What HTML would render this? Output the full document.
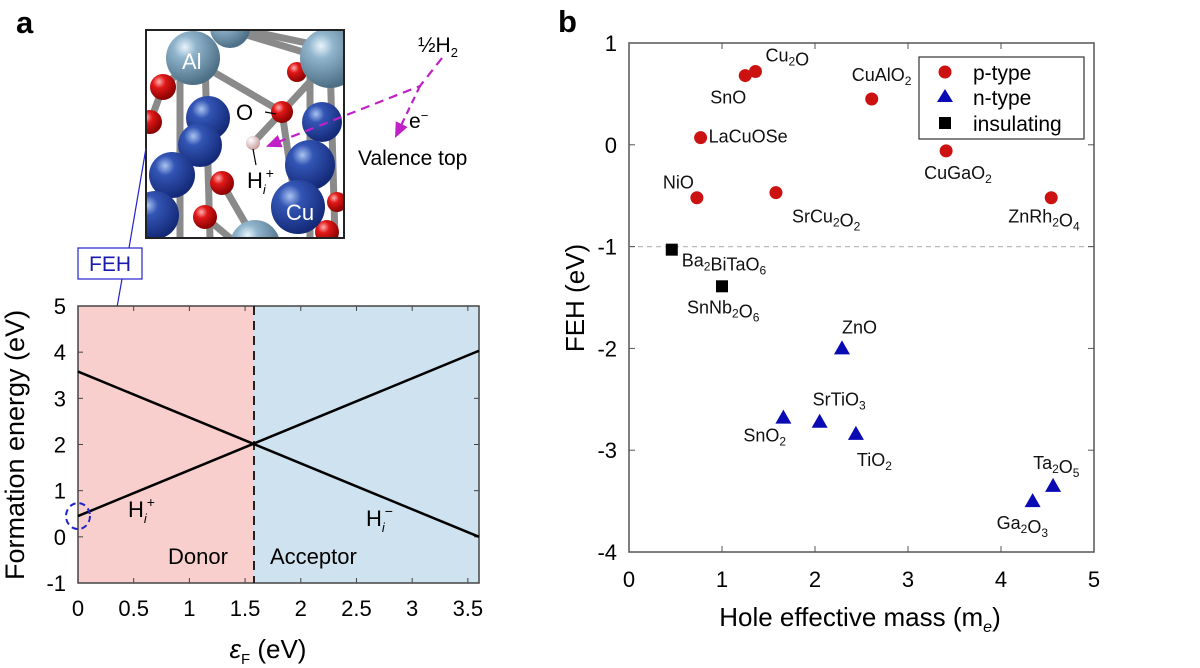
<!DOCTYPE html>
<html><head><meta charset="utf-8"><style>
body{margin:0;background:#fff;width:1200px;height:668px;overflow:hidden}
svg{display:block;font-family:"Liberation Sans",sans-serif}
</style></head><body>
<svg width="1200" height="668" viewBox="0 0 1200 668">
<defs>
<radialGradient id="gAl" cx="35%" cy="30%" r="70%"><stop offset="0" stop-color="#e8f4fb"/><stop offset="0.3" stop-color="#8fb4cc"/><stop offset="1" stop-color="#4d6f85"/></radialGradient>
<radialGradient id="gCu" cx="35%" cy="30%" r="70%"><stop offset="0" stop-color="#aac4f0"/><stop offset="0.3" stop-color="#3355b5"/><stop offset="1" stop-color="#142a78"/></radialGradient>
<radialGradient id="gO" cx="35%" cy="30%" r="70%"><stop offset="0" stop-color="#ffb0b0"/><stop offset="0.35" stop-color="#e01818"/><stop offset="1" stop-color="#8a0000"/></radialGradient>
<radialGradient id="gH" cx="35%" cy="30%" r="70%"><stop offset="0" stop-color="#fff"/><stop offset="1" stop-color="#c9a0a0"/></radialGradient>
<clipPath id="boxclip"><rect x="146" y="30" width="198" height="208"/></clipPath>
<marker id="arr" markerWidth="8" markerHeight="8" refX="6" refY="4" orient="auto"><path d="M0,1 L7,4 L0,7 z" fill="#c020c8"/></marker>
</defs>

<text x="16" y="33" font-size="31" font-weight="bold">a</text>
<text x="558" y="32" font-size="31" font-weight="bold">b</text>

<g clip-path="url(#boxclip)">
<rect x="146" y="30" width="198" height="208" fill="#fff"/>
<g stroke="#8a8a8a" stroke-width="7" stroke-linecap="round">
<line x1="193" y1="60" x2="282" y2="112"/><line x1="230" y1="30" x2="330" y2="60"/><line x1="245" y1="30" x2="340" y2="50"/>
<line x1="193" y1="60" x2="163" y2="87"/><line x1="163" y1="87" x2="150" y2="122"/>
<line x1="180" y1="60" x2="180" y2="238"/><line x1="205" y1="60" x2="210" y2="238"/>
<line x1="282" y1="112" x2="330" y2="60"/><line x1="282" y1="112" x2="253" y2="143"/><line x1="282" y1="112" x2="296" y2="207"/>
<line x1="222" y1="183" x2="255" y2="240"/><line x1="205" y1="217" x2="230" y2="238"/>
<line x1="310" y1="60" x2="310" y2="238"/><line x1="330" y1="60" x2="335" y2="238"/>
</g>
<circle cx="230" cy="28" r="20" fill="url(#gAl)"/>
<circle cx="297" cy="72" r="10" fill="url(#gO)"/>
<circle cx="163" cy="87" r="13" fill="url(#gO)"/>
<circle cx="193" cy="58" r="27" fill="url(#gAl)"/>
<circle cx="330" cy="58" r="30" fill="url(#gAl)"/>
<circle cx="150" cy="122" r="12" fill="url(#gO)"/>
<circle cx="208" cy="118" r="22" fill="url(#gCu)"/>
<circle cx="200" cy="145" r="22" fill="url(#gCu)"/>
<circle cx="172" cy="175" r="23" fill="url(#gCu)"/>
<circle cx="155" cy="215" r="24" fill="url(#gCu)"/>
<circle cx="222" cy="183" r="12" fill="url(#gO)"/>
<circle cx="205" cy="217" r="12" fill="url(#gO)"/>
<circle cx="255" cy="245" r="25" fill="url(#gAl)"/>
<circle cx="322" cy="122" r="20" fill="url(#gCu)"/>
<circle cx="310" cy="165" r="25" fill="url(#gCu)"/>
<circle cx="337" cy="202" r="10" fill="url(#gO)"/>
<circle cx="327" cy="232" r="12" fill="url(#gO)"/>
<circle cx="298" cy="207" r="27" fill="url(#gCu)"/>
<circle cx="282" cy="112" r="11" fill="url(#gO)"/>
<circle cx="253" cy="143" r="7" fill="url(#gH)"/>
<text x="182" y="69" font-size="22" fill="#fff">Al</text>
<text x="286" y="220" font-size="22" fill="#fff">Cu</text>
<text x="236" y="120" font-size="22">O</text>
<line x1="265" y1="112" x2="276" y2="114" stroke="#000" stroke-width="1.2"/>
<line x1="253" y1="149" x2="256" y2="165" stroke="#000" stroke-width="1.2"/>
<text x="247" y="188" font-size="22">H<tspan font-size="13" font-style="italic" dy="6">i</tspan><tspan font-size="14" dy="-16">+</tspan></text>
</g>
<rect x="146" y="30" width="198" height="208" fill="none" stroke="#222" stroke-width="2"/>

<path d="M442,58 L420,86 L268,146" fill="none" stroke="#c020c8" stroke-width="2.2" stroke-dasharray="9,6" marker-end="url(#arr)"/>
<path d="M420,86 L396,136" fill="none" stroke="#c020c8" stroke-width="2.2" stroke-dasharray="7,5" marker-end="url(#arr)"/>
<text x="418" y="52" font-size="21">½H<tspan font-size="13" dy="5">2</tspan></text>
<text x="409" y="128" font-size="21">e<tspan font-size="13" dy="-8">−</tspan></text>
<text x="358" y="165" font-size="21">Valence top</text>

<line x1="129" y1="248" x2="146" y2="148" stroke="#2222cc" stroke-width="1.2"/>
<line x1="122" y1="279" x2="82" y2="505" stroke="#2222cc" stroke-width="1.2"/>
<rect x="78" y="248" width="64" height="31" fill="#fff" stroke="#2222cc" stroke-width="1.2"/>
<text x="110" y="271" font-size="21" fill="#1a1ab0" text-anchor="middle">FEH</text>

<g id="left"></g>
<g id="right"></g>
</svg>
<script>
const NS="http://www.w3.org/2000/svg";
function mk(p,t,a,txt){const e=document.createElementNS(NS,t);for(const k in a)e.setAttribute(k,a[k]);if(txt!==undefined)e.textContent=txt;p.appendChild(e);return e;}

// ---- Left chart data ----
const efRange=[0,3.6];
const transitionLevel=[1.58];
const hPlus=[0.45,4.03];
const hMinus=[3.58,0.0];
const leftXTicks=[0,0.5,1,1.5,2,2.5,3,3.5];
const leftXTickLabels=["0","0.5","1","1.5","2","2.5","3","3.5"];
const leftYTicks=[-1,0,1,2,3,4,5];

// ---- Right chart data ----
const pNames=["SnO","Cu2O","CuAlO2","LaCuOSe","CuGaO2","NiO","SrCu2O2","ZnRh2O4"];
const pX=[1.25,1.36,2.61,0.77,3.41,0.73,1.58,4.54];
const pY=[0.68,0.72,0.45,0.07,-0.06,-0.52,-0.47,-0.52];
const nNames=["ZnO","SnO2","SrTiO3","TiO2","Ga2O3","Ta2O5"];
const nX=[2.29,1.66,2.05,2.44,4.34,4.56];
const nY=[-2.0,-2.68,-2.72,-2.84,-3.5,-3.35];
const iNames=["Ba2BiTaO6","SnNb2O6"];
const iX=[0.46,1.0];
const iY=[-1.03,-1.39];
const rightXTicks=[0,1,2,3,4,5];
const rightYTicks=[1,0,-1,-2,-3,-4];
const thresholdFEH=[-1];

(function(){
const g=document.getElementById('left');
const X0=78,X1=479,Y0=583,Y1=306;
const xs=v=>X0+(v-0)/(3.6-0)*(X1-X0);
const ys=v=>Y0-(v+1)/6*(Y0-Y1);
let r=mk(g,'rect',{x:X0,y:Y1,width:xs(transitionLevel[0])-X0,height:Y0-Y1,fill:'#f8cfcc'});


r=mk(g,'rect',{x:xs(transitionLevel[0]),y:Y1,width:X1-xs(transitionLevel[0]),height:Y0-Y1,fill:'#cfe2ef'});


mk(g,'rect',{x:X0,y:Y1,width:X1-X0,height:Y0-Y1,fill:'none',stroke:'#444','stroke-width':1.5});
leftXTicks.forEach((t,i)=>{
 mk(g,'line',{x1:xs(t),x2:xs(t),y1:Y0,y2:Y0-5,stroke:'#444'});
 mk(g,'line',{x1:xs(t),x2:xs(t),y1:Y1,y2:Y1+5,stroke:'#444'});
 const tx=mk(g,'text',{x:xs(t),y:Y0+33,'font-size':22,'text-anchor':'middle'},leftXTickLabels[i]);
 
 
});
leftYTicks.forEach(t=>{
 mk(g,'line',{x1:X0,x2:X0+5,y1:ys(t),y2:ys(t),stroke:'#444'});
 mk(g,'line',{x1:X1,x2:X1-5,y1:ys(t),y2:ys(t),stroke:'#444'});
 const tx=mk(g,'text',{x:X0-12,y:ys(t)+8,'font-size':22,'text-anchor':'end'},String(t));
 
 
});
let d=mk(g,'line',{x1:xs(transitionLevel[0]),x2:xs(transitionLevel[0]),y1:Y1,y2:Y0,stroke:'#222','stroke-width':2,'stroke-dasharray':'9,6'});


let l=mk(g,'line',{x1:xs(efRange[0]),y1:ys(hPlus[0]),x2:xs(efRange[1]),y2:ys(hPlus[1]),stroke:'#000','stroke-width':2.5});


l=mk(g,'line',{x1:xs(efRange[0]),y1:ys(hMinus[0]),x2:xs(efRange[1]),y2:ys(hMinus[1]),stroke:'#000','stroke-width':2.5});


let c=mk(g,'ellipse',{cx:xs(0),cy:ys(hPlus[0]),rx:12,ry:13,fill:'none',stroke:'#2222cc','stroke-width':2,'stroke-dasharray':'6,4'});


let t=mk(g,'text',{x:128,y:517,'font-size':22});t.innerHTML='H<tspan font-size="13" font-style="italic" dy="6">i</tspan><tspan font-size="14" dy="-16">+</tspan>';


t=mk(g,'text',{x:366,y:526,'font-size':22});t.innerHTML='H<tspan font-size="13" font-style="italic" dy="6">i</tspan><tspan font-size="14" dy="-16">−</tspan>';


t=mk(g,'text',{x:168,y:564,'font-size':22},'Donor');


t=mk(g,'text',{x:270,y:564,'font-size':22},'Acceptor');


t=mk(g,'text',{x:0,y:0,'font-size':27,'text-anchor':'middle',transform:'translate(24,445) rotate(-90)'},'Formation energy (eV)');


t=mk(g,'text',{x:268,y:658,'font-size':26,'text-anchor':'middle'});t.innerHTML='<tspan font-style="italic">ε</tspan><tspan font-size="15" dy="6">F</tspan><tspan dy="-6"> (eV)</tspan>';


})();

(function(){
const g=document.getElementById('right');
const X0=629,X1=1094,Y0=552,Y1=43;
const xs=v=>X0+v/5*(X1-X0);
const ys=v=>Y0-(v+4)/5*(Y0-Y1);
mk(g,'rect',{x:X0,y:Y1,width:X1-X0,height:Y0-Y1,fill:'none',stroke:'#555','stroke-width':1.5});
let th=mk(g,'line',{x1:X0,x2:X1,y1:ys(thresholdFEH[0]),y2:ys(thresholdFEH[0]),stroke:'#bbb','stroke-width':1.2,'stroke-dasharray':'5,4'});


rightXTicks.forEach(t=>{
 mk(g,'line',{x1:xs(t),x2:xs(t),y1:Y0,y2:Y0-6,stroke:'#555'});
 mk(g,'line',{x1:xs(t),x2:xs(t),y1:Y1,y2:Y1+6,stroke:'#555'});
 const tx=mk(g,'text',{x:xs(t),y:Y0+35,'font-size':22,'text-anchor':'middle'},String(t));
 
 
});
rightYTicks.forEach(t=>{
 mk(g,'line',{x1:X0,x2:X0+6,y1:ys(t),y2:ys(t),stroke:'#555'});
 mk(g,'line',{x1:X1,x2:X1-6,y1:ys(t),y2:ys(t),stroke:'#555'});
 const tx=mk(g,'text',{x:X0-12,y:ys(t)+8,'font-size':22,'text-anchor':'end'},String(t));
 
 
});
function fmt(n){return n.replace(/(\d)/g,'<tspan font-size="12" dy="4">$1</tspan><tspan dy="-4"></tspan>');}
const pOff=[[-35,28,'start'],[10,-10,'start'],[-20,-18,'start'],[8,5,'start'],[-22,28,'start'],[-34,-9,'start'],[16,30,'start'],[-43,25,'start']];
const nOff=[[0,-15,'start'],[-40,24,'start'],[-7,-16,'start'],[1,32,'start'],[-36,28,'start'],[-20,-17,'start']];
const iOff=[[10,17,'start'],[-35,27,'start']];
function lab(x,y,name,o){const t=mk(g,'text',{x:x+o[0],y:y+o[1],'font-size':18,fill:'#111'});t.innerHTML=fmt(name);
 
 }
pX.forEach((v,i)=>{const c=mk(g,'circle',{cx:xs(v),cy:ys(pY[i]),r:6.5,fill:'#cc1111'});
 
 
 lab(xs(v),ys(pY[i]),pNames[i],pOff[i]);});
nX.forEach((v,i)=>{const x=xs(v),y=ys(nY[i]);const p=mk(g,'polygon',{points:`${x},${y-8} ${x-8},${y+6} ${x+8},${y+6}`,fill:'#0a0ab4'});
 
 
 lab(x,y,nNames[i],nOff[i]);});
iX.forEach((v,i)=>{const x=xs(v),y=ys(iY[i]);const r=mk(g,'rect',{x:x-6,y:y-6,width:12,height:12,fill:'#000'});
 
 
 lab(x,y,iNames[i],iOff[i]);});
const lg=mk(g,'g',{});


mk(lg,'rect',{x:919,y:57,width:165,height:82,fill:'#fff',stroke:'#333','stroke-width':1.2});
let e=mk(lg,'circle',{cx:945,cy:72,r:6.5,fill:'#cc1111'});


e=mk(lg,'polygon',{points:'945,89 937,102 953,102',fill:'#0a0ab4'});


e=mk(lg,'rect',{x:939,y:117,width:12,height:12,fill:'#000'});


[['p-type',80],['n-type',105],['insulating',131]].forEach(a=>{const t=mk(lg,'text',{x:973,y:a[1],'font-size':21},a[0]);
 
 });
let t=mk(g,'text',{x:0,y:0,'font-size':26,'text-anchor':'middle',transform:'translate(584,298) rotate(-90)'},'FEH (eV)');


t=mk(g,'text',{x:860,y:626,'font-size':26,'text-anchor':'middle'});t.innerHTML='Hole effective mass (m<tspan font-size="16" font-style="italic" dy="6">e</tspan><tspan dy="-6">)</tspan>';


})();
</script>
</body></html>
